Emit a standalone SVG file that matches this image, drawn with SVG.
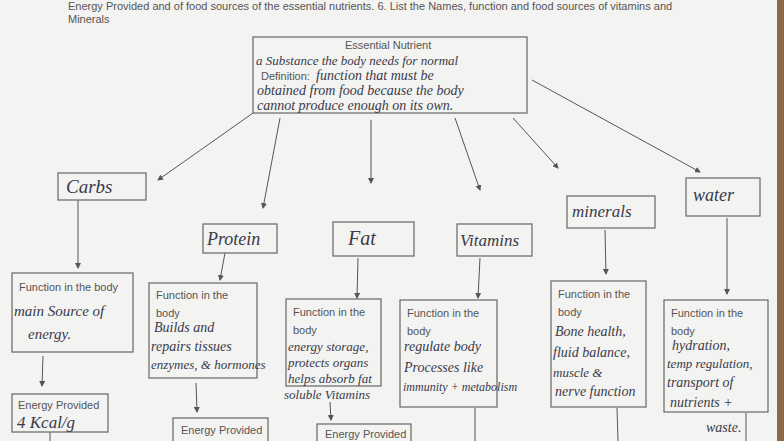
<svg xmlns="http://www.w3.org/2000/svg" width="784" height="441" viewBox="0 0 784 441">
<defs>
<marker id="ah" markerWidth="6" markerHeight="6" refX="5" refY="3" orient="auto" markerUnits="userSpaceOnUse"><path d="M0,0 L6,3 L0,6 z" fill="#555"/></marker>
<style>
.bx{fill:none;stroke:#666;stroke-width:1.2}
.pr{font-family:"Liberation Sans",Arial,sans-serif;font-size:11px;fill:#555}
.hw{font-family:"Liberation Serif",serif;font-style:italic;fill:#3a3a4a}
.ln{stroke:#555;stroke-width:1;fill:none}
.ar{stroke:#555;stroke-width:1;fill:none;marker-end:url(#ah)}
</style>
</defs>
<rect width="784" height="441" fill="#f3f3f1"/>
<rect x="777" y="0" width="7" height="441" fill="#8a6a4a"/>
<text class="pr" x="68" y="10" fill="#777">Energy Provided and of food sources of the essential nutrients. 6. List the Names, function and food sources of vitamins and</text>
<text class="pr" x="68" y="23">Minerals</text>

<g id="connectors">
<line class="ar" x1="253" y1="113" x2="158" y2="180"/>
<line class="ar" x1="280" y1="118" x2="263" y2="208"/>
<line class="ar" x1="371" y1="120" x2="371" y2="183"/>
<line class="ar" x1="455" y1="118" x2="480" y2="190"/>
<line class="ar" x1="513" y1="118" x2="558" y2="168"/>
<line class="ar" x1="532" y1="80" x2="700" y2="172"/>
<line class="ar" x1="78" y1="200" x2="78" y2="268"/>
<line class="ar" x1="225" y1="253" x2="220" y2="280"/>
<line class="ar" x1="358" y1="258" x2="357" y2="298"/>
<line class="ar" x1="480" y1="258" x2="478" y2="298"/>
<line class="ar" x1="605" y1="230" x2="606" y2="274"/>
<line class="ar" x1="727" y1="218" x2="727" y2="294"/>
<line class="ar" x1="43" y1="356" x2="42" y2="386"/>
<line class="ar" x1="196" y1="383" x2="197" y2="412"/>
<line class="ar" x1="330" y1="402" x2="331" y2="420"/>
<line class="ln" x1="475" y1="408" x2="475" y2="441"/>
<line class="ln" x1="617" y1="408" x2="618" y2="441"/>
<line class="ln" x1="746" y1="413" x2="746" y2="441"/>
<line class="ln" x1="50" y1="432" x2="50" y2="441"/>
</g>

<g id="essential">
<rect class="bx" x="253" y="37" width="274" height="76"/>
<text class="pr" x="345" y="49">Essential Nutrient</text>
<text class="pr" x="261" y="80">Definition:</text>
<text class="hw" font-size="13" x="256" y="65">a Substance the body needs for normal</text>
<text class="hw" font-size="14" x="316" y="80">function that must be</text>
<text class="hw" font-size="14" x="257" y="95">obtained from food because the body</text>
<text class="hw" font-size="14" x="257" y="110">cannot produce enough on its own.</text>
</g>

<g id="carbs"><rect class="bx" x="58" y="173" width="88" height="27"/><text class="hw" font-size="19" x="66" y="193">Carbs</text></g>
<g id="protein"><rect class="bx" x="203" y="224" width="74" height="29"/><text class="hw" font-size="18" x="207" y="245">Protein</text></g>
<g id="fat"><rect class="bx" x="333" y="222" width="81" height="34"/><text class="hw" font-size="20" x="348" y="245">Fat</text></g>
<g id="vitamins"><rect class="bx" x="457" y="224" width="75" height="32"/><text class="hw" font-size="17" x="460" y="246">Vitamins</text></g>
<g id="minerals"><rect class="bx" x="567" y="196" width="88" height="32"/><text class="hw" font-size="17" x="572" y="217">minerals</text></g>
<g id="water"><rect class="bx" x="686" y="178" width="74" height="38"/><text class="hw" font-size="18" x="693" y="201">water</text></g>

<g id="f-carbs"><rect class="bx" x="12" y="273" width="121" height="79"/>
<text class="pr" x="19" y="291">Function in the body</text>
<text class="hw" font-size="15" x="14" y="316">main Source of</text>
<text class="hw" font-size="15" x="28" y="339">energy.</text></g>
<g id="f-protein"><rect class="bx" x="149" y="283" width="108" height="95"/>
<text class="pr" x="156" y="299">Function in the</text><text class="pr" x="156" y="317">body</text>
<text class="hw" font-size="14" x="154" y="332">Builds and</text>
<text class="hw" font-size="14" x="151" y="351">repairs tissues</text>
<text class="hw" font-size="13" x="151" y="369">enzymes, &amp; hormones</text></g>
<g id="f-fat"><rect class="bx" x="286" y="299" width="95" height="87"/>
<text class="pr" x="293" y="316">Function in the</text><text class="pr" x="293" y="334">body</text>
<text class="hw" font-size="13" x="288" y="351">energy storage,</text>
<text class="hw" font-size="13" x="288" y="367">protects organs</text>
<text class="hw" font-size="13" x="288" y="383">helps absorb fat</text>
<text class="hw" font-size="13" x="284" y="399">soluble Vitamins</text></g>
<g id="f-vitamins"><rect class="bx" x="400" y="300" width="97" height="107"/>
<text class="pr" x="407" y="317">Function in the</text><text class="pr" x="407" y="335">body</text>
<text class="hw" font-size="14" x="404" y="351">regulate body</text>
<text class="hw" font-size="14" x="404" y="372">Processes like</text>
<text class="hw" font-size="12" x="403" y="391">immunity + metabolism</text></g>
<g id="f-minerals"><rect class="bx" x="551" y="281" width="95" height="126"/>
<text class="pr" x="558" y="298">Function in the</text><text class="pr" x="558" y="316">body</text>
<text class="hw" font-size="14" x="555" y="336">Bone health,</text>
<text class="hw" font-size="14" x="553" y="357">fluid balance,</text>
<text class="hw" font-size="13" x="553" y="377">muscle &amp;</text>
<text class="hw" font-size="14" x="555" y="396">nerve function</text></g>
<g id="f-water"><rect class="bx" x="664" y="300" width="104" height="112"/>
<text class="pr" x="671" y="317">Function in the</text><text class="pr" x="671" y="335">body</text>
<text class="hw" font-size="14" x="672" y="350">hydration,</text>
<text class="hw" font-size="13" x="667" y="368">temp regulation,</text>
<text class="hw" font-size="14" x="667" y="387">transport of</text>
<text class="hw" font-size="14" x="670" y="407">nutrients +</text>
<text class="hw" font-size="14" x="706" y="432">waste.</text></g>

<g id="e-carbs"><rect class="bx" x="12" y="394" width="96" height="38"/>
<text class="pr" x="18" y="409">Energy Provided</text>
<text class="hw" font-size="17" x="17" y="428">4 Kcal/g</text></g>
<g id="e-protein"><rect class="bx" x="173" y="418" width="95" height="30"/>
<text class="pr" x="181" y="434">Energy Provided</text></g>
<g id="e-fat"><rect class="bx" x="317" y="424" width="94" height="25"/>
<text class="pr" x="325" y="438">Energy Provided</text></g>
</svg>
